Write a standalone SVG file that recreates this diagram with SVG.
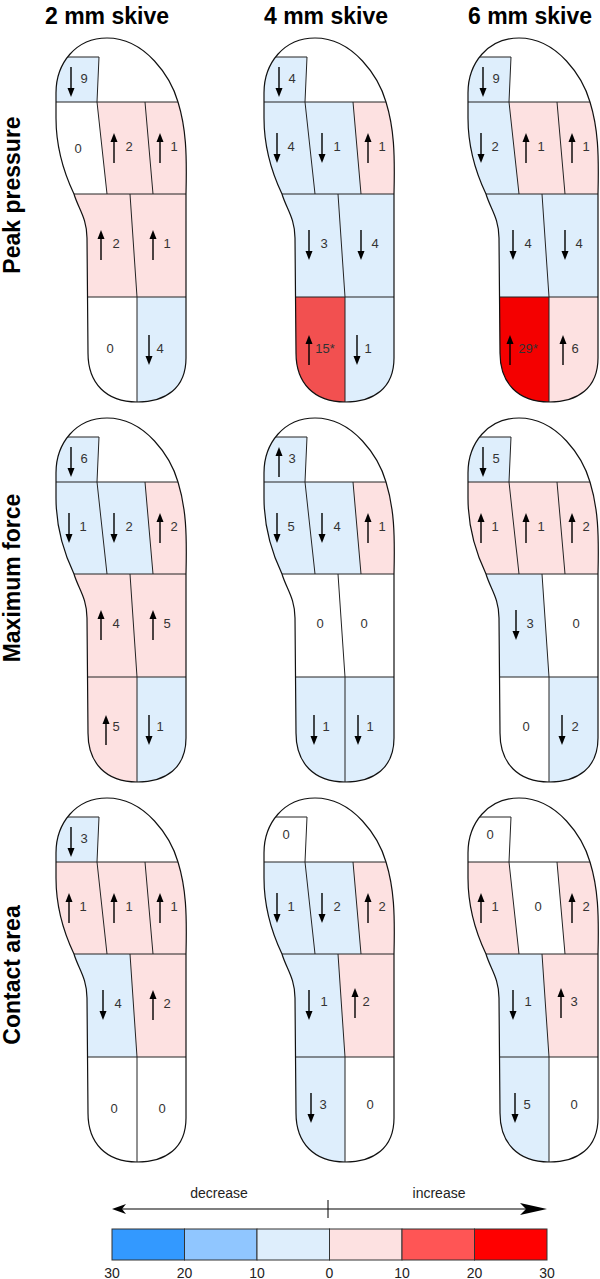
<svg xmlns="http://www.w3.org/2000/svg" xmlns:xlink="http://www.w3.org/1999/xlink" width="600" height="1279" viewBox="0 0 600 1279">
<style>
.h{font-family:"Liberation Sans",Arial,sans-serif;font-weight:bold;font-size:23px;fill:#000;text-anchor:middle}
.n{font-family:"Liberation Sans",Arial,sans-serif;font-size:13px;fill:#333;text-anchor:middle;dominant-baseline:central}
.l{font-family:"Liberation Sans",Arial,sans-serif;font-size:14px;fill:#222;text-anchor:middle}
.ln{fill:none;stroke:#222;stroke-width:1}
.ol{fill:none;stroke:#111;stroke-width:1.2}
.b{fill:#deeefc}.p{fill:#fde1e1}.w{fill:#fff}.R{fill:#f25050}.RR{fill:#f40000}
.ar line{stroke:#000;stroke-width:1.4}.ar polygon{fill:#000}
</style>
<defs>
<path id="foot" d="M51,0 C90,0 115,40 122,64 C130,90 131,115 130,156 L130,320 C130,350 110,364 81,364 C50,364 32,345 32,315 L31,200 C31,180 22,170 18,156 C8,135 0,110 0,80 L0,55 C0,25 20,0 51,0 Z"/>
<clipPath id="fc"><use xlink:href="#foot"/></clipPath>
<g id="up" class="ar"><line x1="0" y1="15" x2="0" y2="-8"/><polygon points="0,-15 -3.5,-6 3.5,-6"/></g>
<g id="dn" class="ar"><line x1="0" y1="-15" x2="0" y2="8"/><polygon points="0,15 -3.5,6 3.5,6"/></g>
<g id="grid" class="ln"><path d="M-5,19 H43 L41,64 M-5,64 H140 M41,64 L51,156 M89,64 L97,156 M-5,156 H140 M74,156 L81,259 M-5,259 H140 M81,259 V370"/></g>
<polygon id="c0" points="-5,19 43,19 41,64 -5,64"/>
<polygon id="c1" points="-5,64 41,64 51,156 -5,156"/>
<polygon id="c2" points="41,64 89,64 97,156 51,156"/>
<polygon id="c3" points="89,64 140,64 140,156 97,156"/>
<polygon id="c4" points="-5,156 74,156 81,259 -5,259"/>
<polygon id="c5" points="74,156 140,156 140,259 81,259"/>
<polygon id="c6" points="-5,259 81,259 81,370 -5,370"/>
<polygon id="c7" points="81,259 140,259 140,370 81,370"/>
</defs>
<rect width="600" height="1279" fill="#fff"/>
<text class="h" x="107" y="24">2 mm skive</text>
<text class="h" x="326" y="24">4 mm skive</text>
<text class="h" x="530" y="24">6 mm skive</text>
<text class="h" transform="translate(20,195) rotate(-90)">Peak pressure</text>
<text class="h" transform="translate(20,578) rotate(-90)">Maximum force</text>
<text class="h" transform="translate(20,975) rotate(-90)">Contact area</text>

<!-- PP 2mm -->
<g id="pp2" transform="translate(56,38)"><g clip-path="url(#fc)"><use xlink:href="#c0" class="b"/><use xlink:href="#c2" class="p"/><use xlink:href="#c3" class="p"/><use xlink:href="#c4" class="p"/><use xlink:href="#c5" class="p"/><use xlink:href="#c7" class="b"/><use xlink:href="#grid"/></g><use xlink:href="#foot" class="ol"/>
<use xlink:href="#dn" x="15" y="44"/><text class="n" x="28" y="40">9</text>
<text class="n" x="22" y="110">0</text>
<use xlink:href="#up" x="58" y="110"/><text class="n" x="73" y="108">2</text>
<use xlink:href="#up" x="104" y="110"/><text class="n" x="118" y="108">1</text>
<use xlink:href="#up" x="45" y="207"/><text class="n" x="60" y="205">2</text>
<use xlink:href="#up" x="97" y="207"/><text class="n" x="111" y="205">1</text>
<text class="n" x="54" y="310">0</text>
<use xlink:href="#dn" x="93" y="312"/><text class="n" x="104" y="310">4</text></g>
<!-- PP 4mm -->
<g id="pp4" transform="translate(264,38)"><g clip-path="url(#fc)"><use xlink:href="#c0" class="b"/><use xlink:href="#c1" class="b"/><use xlink:href="#c2" class="b"/><use xlink:href="#c3" class="p"/><use xlink:href="#c4" class="b"/><use xlink:href="#c5" class="b"/><use xlink:href="#c6" class="R"/><use xlink:href="#c7" class="b"/><use xlink:href="#grid"/></g><use xlink:href="#foot" class="ol"/>
<use xlink:href="#dn" x="15" y="44"/><text class="n" x="28" y="40">4</text>
<use xlink:href="#dn" x="13" y="110"/><text class="n" x="27" y="108">4</text>
<use xlink:href="#dn" x="58" y="110"/><text class="n" x="73" y="108">1</text>
<use xlink:href="#up" x="104" y="110"/><text class="n" x="118" y="108">1</text>
<use xlink:href="#dn" x="45" y="207"/><text class="n" x="60" y="205">3</text>
<use xlink:href="#dn" x="97" y="207"/><text class="n" x="111" y="205">4</text>
<use xlink:href="#up" x="45" y="312"/><text class="n" x="61" y="310">15*</text>
<use xlink:href="#dn" x="93" y="312"/><text class="n" x="104" y="310">1</text></g>
<!-- PP 6mm -->
<g id="pp6" transform="translate(468,38)"><g clip-path="url(#fc)"><use xlink:href="#c0" class="b"/><use xlink:href="#c1" class="b"/><use xlink:href="#c2" class="p"/><use xlink:href="#c3" class="p"/><use xlink:href="#c4" class="b"/><use xlink:href="#c5" class="b"/><use xlink:href="#c6" class="RR"/><use xlink:href="#c7" class="p"/><use xlink:href="#grid"/></g><use xlink:href="#foot" class="ol"/>
<use xlink:href="#dn" x="15" y="44"/><text class="n" x="28" y="40">9</text>
<use xlink:href="#dn" x="13" y="110"/><text class="n" x="27" y="108">2</text>
<use xlink:href="#up" x="58" y="110"/><text class="n" x="73" y="108">1</text>
<use xlink:href="#up" x="104" y="110"/><text class="n" x="118" y="108">1</text>
<use xlink:href="#dn" x="45" y="207"/><text class="n" x="60" y="205">4</text>
<use xlink:href="#dn" x="97" y="207"/><text class="n" x="111" y="205">4</text>
<use xlink:href="#up" x="42" y="312"/><text class="n" x="60" y="310" fill="#600">29*</text>
<use xlink:href="#up" x="95" y="312"/><text class="n" x="107" y="310">6</text></g>

<!-- MF 2mm -->
<g id="mf2" transform="translate(56,418)"><g clip-path="url(#fc)"><use xlink:href="#c0" class="b"/><use xlink:href="#c1" class="b"/><use xlink:href="#c2" class="b"/><use xlink:href="#c3" class="p"/><use xlink:href="#c4" class="p"/><use xlink:href="#c5" class="p"/><use xlink:href="#c6" class="p"/><use xlink:href="#c7" class="b"/><use xlink:href="#grid"/></g><use xlink:href="#foot" class="ol"/>
<use xlink:href="#dn" x="15" y="44"/><text class="n" x="28" y="40">6</text>
<use xlink:href="#dn" x="13" y="110"/><text class="n" x="27" y="108">1</text>
<use xlink:href="#dn" x="58" y="110"/><text class="n" x="73" y="108">2</text>
<use xlink:href="#up" x="104" y="110"/><text class="n" x="118" y="108">2</text>
<use xlink:href="#up" x="45" y="207"/><text class="n" x="60" y="205">4</text>
<use xlink:href="#up" x="97" y="207"/><text class="n" x="111" y="205">5</text>
<use xlink:href="#up" x="50" y="312"/><text class="n" x="60" y="308">5</text>
<use xlink:href="#dn" x="93" y="312"/><text class="n" x="104" y="308">1</text></g>
<!-- MF 4mm -->
<g id="mf4" transform="translate(264,418)"><g clip-path="url(#fc)"><use xlink:href="#c0" class="b"/><use xlink:href="#c1" class="b"/><use xlink:href="#c2" class="b"/><use xlink:href="#c3" class="p"/><use xlink:href="#c6" class="b"/><use xlink:href="#c7" class="b"/><use xlink:href="#grid"/></g><use xlink:href="#foot" class="ol"/>
<use xlink:href="#up" x="15" y="44"/><text class="n" x="28" y="40">3</text>
<use xlink:href="#dn" x="13" y="110"/><text class="n" x="27" y="108">5</text>
<use xlink:href="#dn" x="58" y="110"/><text class="n" x="73" y="108">4</text>
<use xlink:href="#up" x="104" y="110"/><text class="n" x="118" y="108">1</text>
<text class="n" x="56" y="205">0</text>
<text class="n" x="100" y="205">0</text>
<use xlink:href="#dn" x="50" y="312"/><text class="n" x="62" y="308">1</text>
<use xlink:href="#dn" x="94" y="312"/><text class="n" x="106" y="308">1</text></g>
<!-- MF 6mm -->
<g id="mf6" transform="translate(468,418)"><g clip-path="url(#fc)"><use xlink:href="#c0" class="b"/><use xlink:href="#c1" class="p"/><use xlink:href="#c2" class="p"/><use xlink:href="#c3" class="p"/><use xlink:href="#c4" class="b"/><use xlink:href="#c7" class="b"/><use xlink:href="#grid"/></g><use xlink:href="#foot" class="ol"/>
<use xlink:href="#dn" x="15" y="44"/><text class="n" x="28" y="40">5</text>
<use xlink:href="#up" x="13" y="110"/><text class="n" x="27" y="108">1</text>
<use xlink:href="#up" x="58" y="110"/><text class="n" x="73" y="108">1</text>
<use xlink:href="#up" x="104" y="110"/><text class="n" x="118" y="108">2</text>
<use xlink:href="#dn" x="48" y="207"/><text class="n" x="62" y="205">3</text>
<text class="n" x="108" y="205">0</text>
<text class="n" x="58" y="308">0</text>
<use xlink:href="#dn" x="94" y="312"/><text class="n" x="107" y="308">2</text></g>

<!-- CA 2mm -->
<g id="ca2" transform="translate(56,798)"><g clip-path="url(#fc)"><use xlink:href="#c0" class="b"/><use xlink:href="#c1" class="p"/><use xlink:href="#c2" class="p"/><use xlink:href="#c3" class="p"/><use xlink:href="#c4" class="b"/><use xlink:href="#c5" class="p"/><use xlink:href="#grid"/></g><use xlink:href="#foot" class="ol"/>
<use xlink:href="#dn" x="15" y="44"/><text class="n" x="28" y="40">3</text>
<use xlink:href="#up" x="13" y="110"/><text class="n" x="27" y="108">1</text>
<use xlink:href="#up" x="58" y="110"/><text class="n" x="73" y="108">1</text>
<use xlink:href="#up" x="104" y="110"/><text class="n" x="118" y="108">1</text>
<use xlink:href="#dn" x="47" y="207"/><text class="n" x="62" y="205">4</text>
<use xlink:href="#up" x="97" y="207"/><text class="n" x="111" y="205">2</text>
<text class="n" x="58" y="310">0</text>
<text class="n" x="106" y="310">0</text></g>
<!-- CA 4mm -->
<g id="ca4" transform="translate(264,798)"><g clip-path="url(#fc)"><use xlink:href="#c1" class="b"/><use xlink:href="#c2" class="b"/><use xlink:href="#c3" class="p"/><use xlink:href="#c4" class="b"/><use xlink:href="#c5" class="p"/><use xlink:href="#c6" class="b"/><use xlink:href="#grid"/></g><use xlink:href="#foot" class="ol"/>
<text class="n" x="22" y="36">0</text>
<use xlink:href="#dn" x="13" y="110"/><text class="n" x="27" y="108">1</text>
<use xlink:href="#dn" x="58" y="110"/><text class="n" x="73" y="108">2</text>
<use xlink:href="#up" x="104" y="110"/><text class="n" x="118" y="108">2</text>
<use xlink:href="#dn" x="45" y="207"/><text class="n" x="60" y="203">1</text>
<use xlink:href="#up" x="91" y="205"/><text class="n" x="102" y="203">2</text>
<use xlink:href="#dn" x="47" y="310"/><text class="n" x="59" y="306">3</text>
<text class="n" x="106" y="306">0</text></g>
<!-- CA 6mm -->
<g id="ca6" transform="translate(468,798)"><g clip-path="url(#fc)"><use xlink:href="#c1" class="p"/><use xlink:href="#c3" class="p"/><use xlink:href="#c4" class="b"/><use xlink:href="#c5" class="p"/><use xlink:href="#c6" class="b"/><use xlink:href="#grid"/></g><use xlink:href="#foot" class="ol"/>
<text class="n" x="22" y="36">0</text>
<use xlink:href="#up" x="13" y="110"/><text class="n" x="27" y="108">1</text>
<text class="n" x="70" y="108">0</text>
<use xlink:href="#up" x="104" y="110"/><text class="n" x="118" y="108">2</text>
<use xlink:href="#dn" x="45" y="207"/><text class="n" x="60" y="203">1</text>
<use xlink:href="#up" x="93" y="205"/><text class="n" x="106" y="203">3</text>
<use xlink:href="#dn" x="47" y="310"/><text class="n" x="59" y="306">5</text>
<text class="n" x="106" y="306">0</text></g>

<!-- legend -->
<g id="legend">
<text class="l" x="219" y="1198">decrease</text>
<text class="l" x="439" y="1198">increase</text>
<g id="connectors"><path d="M118,1209 H540" stroke="#000" stroke-width="1.2" fill="none"/>
<polygon points="112,1209 126,1204 122,1209 126,1214" fill="#000"/>
<polygon points="547,1209 520,1203 526,1209 520,1215" fill="#000"/>
<line x1="328" y1="1200" x2="328" y2="1218" stroke="#000" stroke-width="1"/></g>
<g stroke="#333" stroke-width="1">
<rect x="112" y="1229" width="72.5" height="31" fill="#3399ff"/>
<rect x="184.5" y="1229" width="72.5" height="31" fill="#90c6ff"/>
<rect x="257" y="1229" width="72.5" height="31" fill="#deeefc"/>
<rect x="329.5" y="1229" width="72.5" height="31" fill="#fde1e1"/>
<rect x="402" y="1229" width="72.5" height="31" fill="#ff5555"/>
<rect x="474.5" y="1229" width="72.5" height="31" fill="#ff0000"/>
</g>
<text class="l" x="112" y="1278">30</text><text class="l" x="184.5" y="1278">20</text><text class="l" x="257" y="1278">10</text><text class="l" x="329.5" y="1278">0</text><text class="l" x="402" y="1278">10</text><text class="l" x="474.5" y="1278">20</text><text class="l" x="547" y="1278">30</text>
</g>
</svg>
